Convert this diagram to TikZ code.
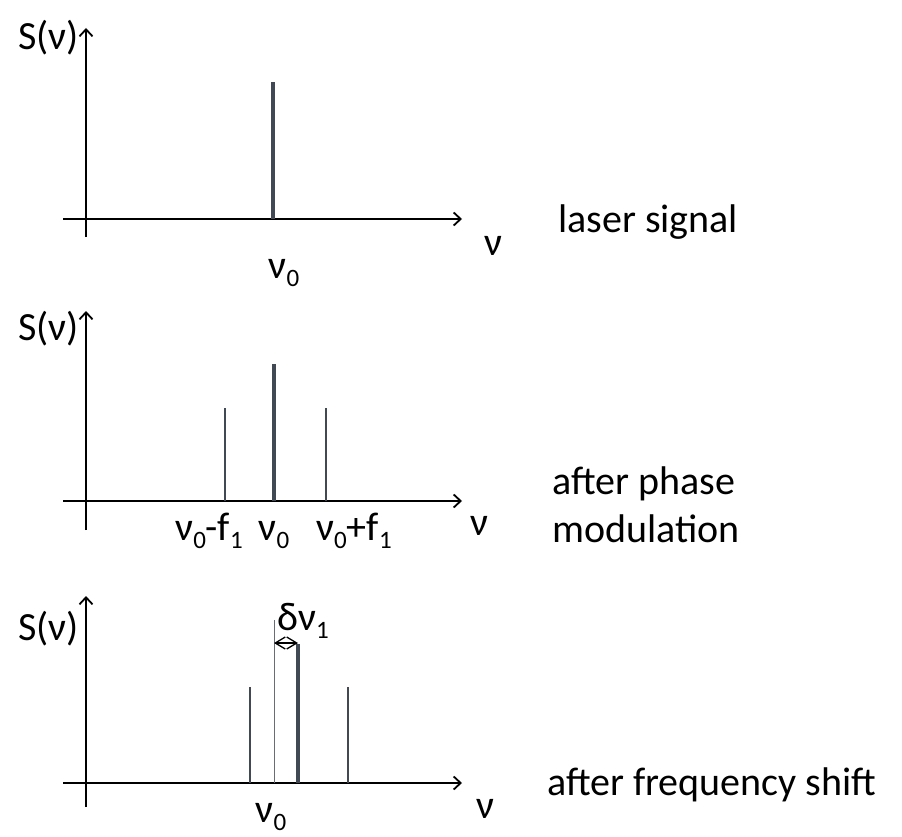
\documentclass[tikz,border=0pt]{standalone}
\usepackage{fontspec}
\setmainfont{Carlito}
\usetikzlibrary{arrows.meta}
\definecolor{spk}{HTML}{414955}
\newcommand\lowsub[1]{\raisebox{-8pt}{\fontsize{25}{25}\selectfont #1}}
\tikzset{
  axis/.style={line width=2.5pt,black},
  axarrow/.style={axis,-{Straight Barb[length=7pt,width=13pt,line width=1.8pt]}},
  thick spike/.style={line width=3.6pt,spk},
  side spike/.style={line width=2.5pt,spk},
  thin guide/.style={line width=0.7pt,spk!80},
  lab/.style={inner sep=0pt,anchor=base,font=\fontsize{40}{46}\selectfont},
  side/.style={inner sep=0pt,anchor=base west,font=\fontsize{40}{48}\selectfont},
}
\begin{document}
\begin{tikzpicture}[x=1pt,y=-1pt]
\useasboundingbox (0,0) rectangle (902,837);
% ---------- panel 1 ----------
\coordinate (y1b) at (86,237); \coordinate (y1t) at (86,28);
\coordinate (x1l) at (63,219); \coordinate (x1r) at (462,219);
\coordinate (s1b) at (273,219); \coordinate (s1t) at (273,82);
\draw[axarrow] (y1b) -- (y1t);
\draw[axarrow] (x1l) -- (x1r);
\draw[thick spike] (s1b) -- (s1t);
\node[lab,anchor=base east] (S1) at (79,50) {S(ν)};
\node[lab] (n1) at (284,278) {ν\lowsub{0}};
\node[lab] (nu1) at (493,255) {ν};
\node[side] (t1) at (558,233) {laser signal};
% ---------- panel 2 ----------
\coordinate (y2b) at (86,530); \coordinate (y2t) at (86,311);
\coordinate (x2l) at (63,501); \coordinate (x2r) at (462,501);
\coordinate (c2b) at (274,501); \coordinate (c2t) at (274,364);
\coordinate (l2b) at (225,501); \coordinate (l2t) at (225,408);
\coordinate (r2b) at (326,501); \coordinate (r2t) at (326,408);
\draw[axarrow] (y2b) -- (y2t);
\draw[axarrow] (x2l) -- (x2r);
\draw[thick spike] (c2b) -- (c2t);
\draw[side spike] (l2b) -- (l2t);
\draw[side spike] (r2b) -- (r2t);
\node[lab,anchor=base east] (S2) at (79,340) {S(ν)};
\node[lab] (n2l) at (209,540) {ν\lowsub{0}-f\lowsub{1}};
\node[lab] (n2c) at (274,540) {ν\lowsub{0}};
\node[lab] (n2r) at (354,540) {ν\lowsub{0}+f\lowsub{1}};
\node[lab] (nu2) at (479,535) {ν};
\node[side] (t2a) at (552,494) {after phase};
\node[side] (t2b) at (552,542) {modulation};
% ---------- panel 3 ----------
\coordinate (y3b) at (86,807); \coordinate (y3t) at (86,596);
\coordinate (x3l) at (63,783); \coordinate (x3r) at (462,783);
\coordinate (g3b) at (274,783); \coordinate (g3t) at (274,620);
\coordinate (c3b) at (298,783); \coordinate (c3t) at (298,644);
\coordinate (l3b) at (250,783); \coordinate (l3t) at (250,687);
\coordinate (r3b) at (348,783); \coordinate (r3t) at (348,687);
\coordinate (da) at (274,643); \coordinate (db) at (298,643);
\draw[axarrow] (y3b) -- (y3t);
\draw[axarrow] (x3l) -- (x3r);
\draw[thin guide] (g3b) -- (g3t);
\draw[thick spike] (c3b) -- (c3t);
\draw[side spike] (l3b) -- (l3t);
\draw[side spike] (r3b) -- (r3t);
\draw[line width=1.3pt,black,{Straight Barb[length=10pt,width=12pt,line width=1.3pt]}-{Straight Barb[length=10pt,width=12pt,line width=1.3pt]}] (da) -- (db);
\node[lab,anchor=base east] (S3) at (79,640) {S(ν)};
\node[lab,anchor=base west] (dn) at (277,630) {δν\lowsub{1}};
\node[lab] (n3) at (271,822) {ν\lowsub{0}};
\node[lab] (nu3) at (485,818) {ν};
\node[side] (t3) at (547,795) {after frequency shift};
\end{tikzpicture}
\end{document}
